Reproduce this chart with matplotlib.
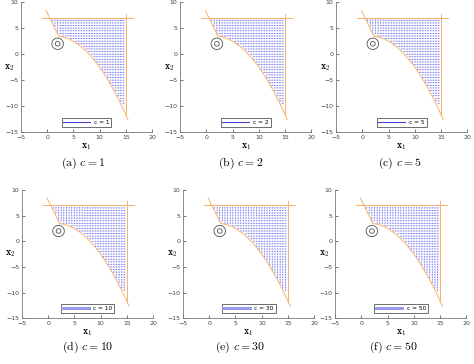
import numpy as np
import matplotlib.pyplot as plt
from matplotlib.lines import Line2D

plt.rcParams["mathtext.fontset"] = "cm"

# penalty parameter of each panel
c_values = [1, 2, 5, 10, 30, 50]
panel_tags = ["(a)", "(b)", "(c)", "(d)", "(e)", "(f)"]
v_weights = [0.1, 0.15, 0.45, 1.3, 2.6, 2.1]

# constraint boundaries
x2_top = 7.0          # x2 <= 7
x1_right = 15.0       # x1 <= 15
line_a, line_b = 8.0, -2.05          # x2 >= 8 - 2.05 x1
para_c, para_x0, para_k = 3.5, 1.5, 12.0   # x2 >= 3.5 - (x1-1.5)^2/12
x_star = [2.0, 2.0]   # objective minimum
contour_levels = [0.2, 1.2]

# axes placement (fig fractions) and caption centres (pixels)
axes_rect = [
    [0.044, 0.637, 0.277, 0.357],
    [0.380, 0.637, 0.277, 0.357],
    [0.709, 0.637, 0.277, 0.357],
    [0.046, 0.126, 0.277, 0.352],
    [0.386, 0.126, 0.277, 0.352],
    [0.707, 0.126, 0.277, 0.352],
]
caption_xy = [(83, 163), (241, 163), (400, 163), (88, 347), (240, 347), (393, 347)]

W, H = 474, 364


def parabola(x1):
    return para_c - (x1 - para_x0) ** 2 / para_k


def slant(x1):
    return line_a + line_b * x1


def feasible(x1, x2):
    return (x2 <= x2_top - 0.2) & (x1 <= x1_right - 0.2) & \
        (x2 >= slant(x1) + 0.1) & (x2 >= parabola(x1) + 0.15)


def draw_panel(ax, c, w, top_row):
    # orange constraint lines
    orange = "#f7b06a"
    ax.plot([-1.0, 16.3], [x2_top, x2_top], color=orange, lw=0.7)
    xs = np.linspace(-0.2, 2.2, 20)
    ax.plot(xs, slant(xs), color=orange, lw=0.7)
    xp = np.linspace(2.2, 15.4, 100)
    ax.plot(xp, parabola(xp), color=orange, lw=0.7)
    ax.plot([x1_right, x1_right], [7.8, parabola(x1_right)], color=orange, lw=0.7)

    # vector field on the feasible grid
    g1, g2 = np.meshgrid(np.arange(0.5, 15.0, 0.5), np.arange(-9.5, 7.0, 0.5))
    m = feasible(g1, g2)
    X, Y = g1[m], g2[m]
    u = -(X - x_star[0])
    v = -(Y - x_star[1]) * w
    p = 4.0
    u2 = np.sign(u) * np.abs(u) ** p
    v2 = np.sign(v) * np.abs(v) ** p
    n = np.hypot(u2, v2) + 1e-12
    ax.quiver(X, Y, u2 / n, v2 / n, angles="xy", scale_units="xy", scale=1 / 0.42,
              color="#5050f0", width=0.005, headwidth=2.2, headlength=2.2,
              headaxislength=2.0, alpha=0.85, pivot="middle")

    # contours of the objective around the minimum
    cx, cy = np.meshgrid(np.linspace(0, 4, 120), np.linspace(0, 4, 120))
    f = (cx - x_star[0]) ** 2 + (cy - x_star[1]) ** 2
    ax.contour(cx, cy, f, levels=contour_levels, colors="#505050", linewidths=0.6)

    ax.set_xlim(-5, 20)
    ax.set_ylim(-15, 10)
    ax.set_xticks([-5, 0, 5, 10, 15, 20])
    ax.set_yticks([-15, -10, -5, 0, 5, 10])
    for s in ["top", "right"]:
        ax.spines[s].set_visible(False)
    for s in ["left", "bottom"]:
        ax.spines[s].set_color("#777777")
        ax.spines[s].set_linewidth(0.6)
    ax.tick_params(direction="in", length=2, width=0.5, labelsize=4.5,
                   colors="#444444", pad=2)
    ax.set_xlabel(r"$\mathbf{x_1}$", fontsize=7, labelpad=1)
    ax.set_ylabel(r"$\mathbf{x_2}$", fontsize=7, rotation=0, va="center")
    ax.yaxis.set_label_coords(-0.085, 0.5)

    if top_row:
        h = Line2D([], [], color="#4444cc", lw=0.8)
    else:
        h = Line2D([], [], color="#9a9aee", lw=2.2)
    leg = ax.legend([h], [f"c = {c}"], loc="lower center", fontsize=4.2,
                    handlelength=4.5, fancybox=False, framealpha=1,
                    borderpad=0.3, bbox_to_anchor=(0.5, 0.02))
    leg.get_frame().set_edgecolor("#333333")
    leg.get_frame().set_linewidth(0.5)


fig = plt.figure(figsize=(W / 100, H / 100), dpi=100)
for i, c in enumerate(c_values):
    ax = fig.add_axes(axes_rect[i])
    draw_panel(ax, c, v_weights[i], i < 3)
    px, py = caption_xy[i]
    fig.text(px / W, 1 - py / H, f"{panel_tags[i]} $c = {c}$", ha="center",
             va="center", fontsize=8.5, family="cmr10")

fig.savefig("out.png", dpi=100)
